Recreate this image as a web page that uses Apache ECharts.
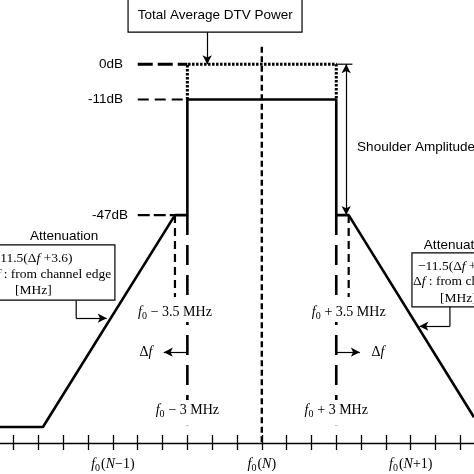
<!DOCTYPE html>
<html>
<head>
<meta charset="utf-8">
<script src="https://cdn.jsdelivr.net/npm/echarts@6/dist/echarts.min.js"></script>
<style>
html, body { margin: 0; padding: 0; background: #fff; }
#chart { width: 474px; height: 474px; }
</style>
</head>
<body>
<div id="chart"></div>
<script>
// x: MHz from f0(N), y: dB relative to total average power
const maskFreq = [-10.55, -8.82, -3.5, -3, -3, 3, 3, 3.5, 8.55]
const maskLevel = [-113, -113, -47, -47, -11, -11, -47, -47, -110]
const powerFreq = [-3, -3, 3, 3]
const powerLevel = [-11, 0, 0, -11]
const levelValues = [0, -11, -47]
const levelLabels = ['0dB', '-11dB', '-47dB']
const channelTicks = [-10, -9, -8, -7, -6, -5, -4, -3, -2, -1, 0, 1, 2, 3, 4, 5, 6, 7, 8]
const channelValues = [-6, 0, 6]
const channelLabels = ['N\u22121', 'N', 'N+1']
const edgeValues = [-3.5, -3, 3, 3.5]
const edgeLabels = ['\u2212 3.5 MHz', '\u2212 3 MHz', '+ 3 MHz', '+ 3.5 MHz']

const SANS = 'Liberation Sans, Arial, sans-serif'
const SERIF = 'Liberation Serif, Times New Roman, serif'
const BLACK = '#000'

const chart = echarts.init(document.getElementById('chart'))

const mathRich = {
  i: { fontFamily: SERIF, fontStyle: 'italic', fontSize: 14, color: BLACK, lineHeight: 18 },
  s: { fontFamily: SERIF, fontSize: 10, color: BLACK, verticalAlign: 'bottom', lineHeight: 11, padding: [0, 1, 0, 0] },
  r: { fontFamily: SERIF, fontSize: 14, color: BLACK, lineHeight: 18 }
}
const boxRich = {
  i: { fontFamily: SERIF, fontStyle: 'italic', fontSize: 13.5, color: BLACK },
  r: { fontFamily: SERIF, fontSize: 13.5, color: BLACK }
}

function seg(data, style, z) {
  return {
    type: 'line',
    data: data,
    symbol: 'none',
    silent: true,
    animation: false,
    clip: false,
    z: z || 2,
    lineStyle: Object.assign({ color: BLACK }, style)
  }
}

function arrows(pairs, symbol, width) {
  return {
    type: 'line',
    data: [],
    silent: true,
    animation: false,
    markLine: {
      silent: true,
      animation: false,
      symbol: symbol,
      symbolSize: [7, 9],
      label: { show: false },
      lineStyle: { color: BLACK, width: width || 1.2, type: 'solid' },
      data: pairs.map(p => [{ coord: p[0] }, { coord: p[1] }])
    }
  }
}

const series = [
  // emission mask
  seg(maskFreq.map((f, i) => [f, maskLevel[i]]), { width: 2.6 }, 5),
  // total average power, dotted
  seg(powerFreq.map((f, i) => [f, powerLevel[i]]), { width: 3, type: [2.5, 1.5] }, 4),
  // level guides
  seg([[-5, levelValues[0]], [-3, levelValues[0]]], { width: 3, type: [15, 5] }),
  seg([[-5, levelValues[1]], [-3, levelValues[1]]], { width: 2, type: [11, 6] }),
  seg([[-5, levelValues[2]], [-3.5, levelValues[2]]], { width: 2.4, type: [12, 4] }),
  // channel centre
  seg([[0, 5.4], [0, -118]], { width: 2.4, type: [6, 3.5] }),
  // channel edges
  seg([[edgeValues[1], -47], [edgeValues[1], -112.5]], { width: 2.6, type: [20, 10] }),
  seg([[edgeValues[2], -47], [edgeValues[2], -112.5]], { width: 2.6, type: [20, 10] }),
  seg([[edgeValues[0], -47], [edgeValues[0], -72.5]], { width: 2.2, type: [8, 5] }),
  seg([[edgeValues[3], -47], [edgeValues[3], -72.5]], { width: 2.2, type: [8, 5] }),
  // shoulder top tick
  seg([[3.05, 0], [3.65, 0]], { width: 1.2 }),
  // attenuation connectors
  seg([[-7.48, -73.5], [-7.48, -79.1]], { width: 1.2 }),
  seg([[7.58, -75.6], [7.58, -81.6]], { width: 1.2 }),
  arrows([
    [[-2.2, 10], [-2.2, 0]],
    [[-3, -89.7], [-3.95, -89.7]],
    [[3, -89.7], [3.95, -89.7]],
    [[-7.48, -79.1], [-6.25, -79.1]],
    [[7.58, -81.6], [6.35, -81.6]]
  ], ['none', 'arrow']),
  arrows([[[3.4, 0], [3.4, -47]]], ['arrow', 'arrow'])
]

const tickStyle = { color: BLACK, width: 1.3 }

chart.setOption({
  animation: false,
  backgroundColor: '#fff',
  grid: { left: 0, right: 0, top: 0, bottom: 31, containLabel: false },
  xAxis: [{
    type: 'value',
    min: -10.55,
    max: 8.55,
    position: 'bottom',
    axisLine: { show: true, onZero: false, lineStyle: { color: BLACK, width: 1.3 } },
    axisTick: { show: true, inside: false, length: 7, customValues: channelTicks, lineStyle: tickStyle },
    axisLabel: {
      customValues: channelValues,
      margin: 12,
      formatter: v => '{i|f}{s|0}{r|(}{i|' + channelLabels[channelValues.indexOf(v)].replace(/[^N]/g, m => '}{r|' + m + '}{i|') + '}{r|)}',
      rich: mathRich
    },
    splitLine: { show: false }
  }, {
    type: 'value',
    min: -10.55,
    max: 8.55,
    position: 'bottom',
    axisLine: { show: false, onZero: false },
    axisTick: { show: true, inside: true, length: 8, customValues: channelTicks, lineStyle: tickStyle },
    axisLabel: { show: false },
    splitLine: { show: false }
  }],
  yAxis: { type: 'value', min: -118, max: 20, show: false },
  series: series
})

const p = (f, db) => chart.convertToPixel({ xAxisIndex: 0, yAxisIndex: 0 }, [f, db])

function sansText(text, pt, align) {
  return {
    type: 'text', silent: true, z: 20,
    style: { text: text, x: pt[0], y: pt[1], align: align, verticalAlign: 'middle', font: '13.5px ' + SANS, fill: BLACK }
  }
}

function mathText(text, pt, align, bg, rich) {
  return {
    type: 'text', silent: true, z: 20,
    style: {
      text: text, x: pt[0], y: pt[1], align: align, verticalAlign: 'middle',
      rich: rich || mathRich, backgroundColor: bg ? '#fff' : 'transparent', padding: bg ? [1, 2] : 0
    }
  }
}

function box(a, b) {
  return {
    type: 'rect', silent: true, z: 15,
    shape: { x: a[0], y: a[1], width: b[0] - a[0], height: b[1] - a[1] },
    style: { fill: '#fff', stroke: BLACK, lineWidth: 1.2 }
  }
}

const graphics = []

// level labels
levelValues.forEach((v, i) => {
  graphics.push(sansText(levelLabels[i], p(i === 2 ? -5.39 : -5.59, v), 'right'))
})

// edge frequency labels
edgeValues.forEach((v, i) => {
  const db = Math.abs(v) === 3 ? -107.7 : -77.2
  graphics.push(mathText('{i|f}{s|0}{r|\u2009' + edgeLabels[i] + '}', p(v, db), 'center', true))
})

// delta f labels
graphics.push(mathText('{r|\u0394}{i|f}', p(-4.67, -89.7), 'center'))
graphics.push(mathText('{r|\u0394}{i|f}', p(4.68, -89.7), 'center'))

// total power box
graphics.push(box(p(-5.39, 20.3), p(1.62, 10.0)))
graphics.push(sansText('Total Average DTV Power', p(-1.88, 15.2), 'center'))

// shoulder amplitude
graphics.push(sansText('Shoulder Amplitude', p(3.84, -25.8), 'left'))

// attenuation boxes
graphics.push(sansText('Attenuation', p(-7.97, -53.5), 'center'))
graphics.push(box(p(-11.5, -56.3), p(-5.92, -73.5)))
graphics.push(mathText('{r|\u221211.5(\u0394}{i|f}{r| +3.6)}', p(-10.85, -60.4), 'left', false, boxRich))
graphics.push(mathText('{r|\u0394}{i|f}{r| : from channel edge}', p(-11.04, -65.4), 'left', false, boxRich))
graphics.push(mathText('{r|[MHz]}', p(-9.95, -70.6), 'left', false, boxRich))

graphics.push(sansText('Attenuation', p(6.53, -56.3), 'left'))
graphics.push(box(p(6.05, -58.8), p(11.2, -75.6)))
graphics.push(mathText('{r|\u221211.5(\u0394}{i|f}{r| +3.6)}', p(6.29, -62.9), 'left', false, boxRich))
graphics.push(mathText('{r|\u0394}{i|f}{r| : from channel edge}', p(6.09, -67.8), 'left', false, boxRich))
graphics.push(mathText('{r|[MHz]}', p(7.18, -73.1), 'left', false, boxRich))

chart.setOption({ graphic: graphics })
</script>
</body>
</html>
